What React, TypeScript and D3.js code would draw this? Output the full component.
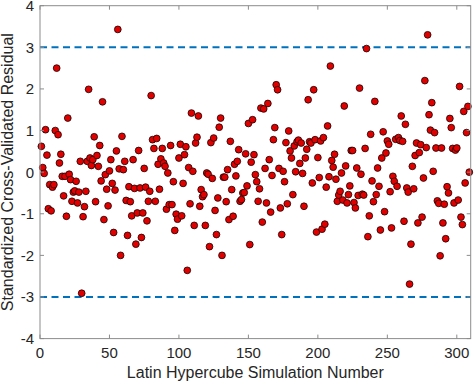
import React from "react";
import * as d3 from "d3";

const residuals: number[] = [
  0.62, 0.11, -0.03, 1.02, 0.41, -0.88, -0.3, -0.93, -0.36, -0.3, 1.0, 2.5, 0.9, 0.22, 0.43, -0.1, -0.57, -0.1, -1.06, 1.3,
  -0.05, -0.18, -0.7, -0.48, -0.45, -0.22, -0.74, -0.48, 0.26, -2.91, -1.07, -0.83, -0.46, 0.26, 1.99, 0.34, 0.16, 0.3, 0.85, -0.71,
  0.4, 0.14, 0.64, -0.21, 1.69, -1.14, -0.06, -0.41, -0.81, 0.03,
  0.3, -0.27, -1.45, -0.43, 0.51, 3.43, 0.08, -2.0, 0.86, 0.06, 0.26, -0.68, -1.52, -0.35, -0.71, -1.05, 0.3, -0.39, -1.73, -0.98,
  0.52, -0.38, -1.57, -0.98, 0.09, -0.36, -1.17, -0.7, -0.46, 1.84, 0.78, 0.57, -0.7, 0.81, 0.19, -0.41, 0.32, 0.57, 0.22, 0.14,
  -0.89, -0.02, -0.78, 0.64, -0.78, -0.23, -1.4, -1.01, -1.13,
  0.34, 0.67, -1.05, -0.27, 0.42, 0.61, -2.36, 0.11, -0.76, 1.42, 0.02, -1.28, 0.7, 0.84, 1.35, -0.82, -0.42, -0.59, -0.54, -1.28,
  -0.02, -0.05, -1.79, 0.71, -0.15, 0.82, -0.92, -1.5, -0.62, 1.08, 1.3, -2.0, -0.12, -0.12, -0.71, 0.06, -1.14, 0.74, -0.42, -1.06,
  0.19, -0.09, 0.26, 0.54, -0.7, -0.66, -0.5, -0.49, 0.44, -0.33,
  1.17, -1.74, 0.24, 1.26, 0.42, -0.06, -0.23, -0.7, -0.4, 1.54, -1.2, 1.52, 0.09, -0.74, 1.65, 0.3, -0.96, -0.08, 0.78, 1.07,
  2.1, 1.98, 0.09, -0.86, -1.5, 0.02, -0.23, 0.71, -0.76, 0.99, 0.51, 0.34, -0.54, 0.63, 0.01, 0.73, 0.77, 0.21, 0.7, -0.03,
  -0.82, 0.34, 0.55, 1.74, 0.73, 0.7, -0.26, 1.98, 0.78, -1.44,
  0.35, -0.13, 0.75, -1.37, 0.83, -1.25, -0.36, 1.11, -0.11, 2.55, 0.28, 0.12, 0.43, -0.17, -0.7, -0.55, -0.46, -0.02, -0.67, 1.59,
  0.15, -0.74, -0.54, -0.33, 0.52, 0.52, -0.73, -0.86, 0.1, -0.56, 2.02, -0.05, -0.53, -0.55, 0.57, 2.97, -1.55, -1.05, 0.91, -0.21,
  -0.71, 1.7, -0.54, 0.1, -0.34, -1.39, 0.34, 0.97, -0.95, 0.46,
  0.75, 0.67, -0.47, -1.34, -0.1, -0.22, 0.79, -0.34, 0.83, 0.76, 1.35, 0.74, -1.18, 1.15, -0.38, -0.48, -2.69, -1.73, 0.14, -0.4,
  0.4, 0.7, -1.22, 0.47, 0.66, -1.08, -0.14, 2.2, 0.59, 3.3, 1.38, 1.01, 1.67, 0.02, 0.95, 0.58, -0.69, -0.75, -2.01, 0.58,
  -1.22, -0.77, -1.6, -0.35, -0.5, 1.29, 1.07, 0.57, -0.74, 0.53, 0.58, -0.67, 2.06, -1.08, -1.26, 1.46, -0.26, 0.95, 1.58, 0.0,
];

const xTicks = [0, 50, 100, 150, 200, 250, 300];
const yTicks = [-4, -3, -2, -1, 0, 1, 2, 3, 4];
const thresholds = [3, -3];
const xLabel = "Latin Hypercube Simulation Number";
const yLabel = "Standardized Cross-Validated Residual";

const W = 474;
const H = 384;
const M = { left: 40, right: 3.3, top: 5.7, bottom: 45.4 };

export default function App() {
  const x = d3.scaleLinear().domain([0, 310]).range([M.left, W - M.right]);
  const y = d3.scaleLinear().domain([-4, 4]).range([H - M.bottom, M.top]);
  const [x0, x1] = x.range();
  const [yb, yt] = y.range();
  const axisColor = "#8c8c8c";
  const textColor = "#262626";
  const font = "'Liberation Sans', Arial, Helvetica, sans-serif";
  const tick = 4;

  return (
    <svg width={W} height={H} style={{ position: "absolute", left: 0, top: 0, background: "#fff" }}>
      <rect x={0} y={0} width={W} height={H} fill="#fff" />
      {thresholds.map((t) => (
        <line key={t} x1={x0} x2={x1} y1={y(t)} y2={y(t)} stroke="#0072BD" strokeWidth={2} strokeDasharray="7,4.5" />
      ))}
      {residuals.map((v, i) => (
        <circle key={i} cx={x(i + 1)} cy={y(v)} r={3.4} fill="#e00000" stroke="#1a0000" strokeWidth={0.8} />
      ))}
      <rect x={x0} y={yt} width={x1 - x0} height={yb - yt} fill="none" stroke={axisColor} strokeWidth={1} />
      {xTicks.map((t) => (
        <g key={t}>
          <line x1={x(t)} x2={x(t)} y1={yb} y2={yb - tick} stroke={axisColor} />
          <line x1={x(t)} x2={x(t)} y1={yt} y2={yt + tick} stroke={axisColor} />
          <text x={x(t)} y={358} textAnchor="middle" fontSize={15} fontFamily={font} fill={textColor}>
            {t}
          </text>
        </g>
      ))}
      {yTicks.map((t) => (
        <g key={t}>
          <line x1={x0} x2={x0 + tick} y1={y(t)} y2={y(t)} stroke={axisColor} />
          <line x1={x1} x2={x1 - tick} y1={y(t)} y2={y(t)} stroke={axisColor} />
          <text x={34} y={y(t)} dy="0.36em" textAnchor="end" fontSize={15} fontFamily={font} fill={textColor}>
            {t}
          </text>
        </g>
      ))}
      <text x={(x0 + x1) / 2} y={378} textAnchor="middle" fontSize={16} fontFamily={font} fill={textColor}>
        {xLabel}
      </text>
      <text
        transform={`translate(13, ${(yt + yb) / 2}) rotate(-90)`}
        textAnchor="middle"
        fontSize={16}
        fontFamily={font}
        fill={textColor}
      >
        {yLabel}
      </text>
    </svg>
  );
}
